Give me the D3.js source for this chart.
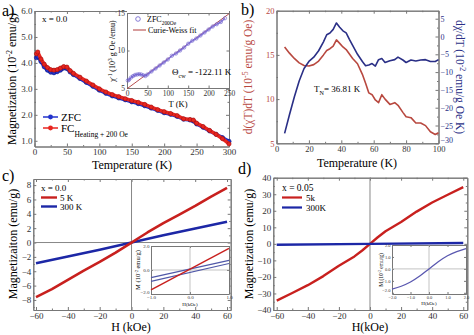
<!DOCTYPE html>
<html>
<head>
<meta charset="utf-8">
<script src="https://cdn.jsdelivr.net/npm/d3@7"></script>
<style>
body { margin: 0; background: #fff; }
</style>
</head>
<body>
<script>
// ---- panel a: M(T), ZFC and FC
const tempA = [3, 5, 10, 15, 20, 25, 30, 35, 40, 45, 50, 55, 60, 70, 80, 90, 100, 110, 120, 130, 140, 150, 160, 170, 180, 190, 200, 210, 220, 230, 240, 245, 250, 260, 270, 280, 290, 300];
const mZFC = [4.2, 4.25, 4.05, 3.85, 3.72, 3.64, 3.62, 3.66, 3.72, 3.8, 3.78, 3.65, 3.55, 3.4, 3.25, 3.1, 2.95, 2.83, 2.73, 2.65, 2.58, 2.5, 2.43, 2.35, 2.26, 2.17, 2.08, 2.02, 1.94, 1.83, 1.8, 1.76, 1.65, 1.52, 1.38, 1.25, 1.12, 0.98];
const mFC = [4.35, 4.42, 4.15, 3.95, 3.82, 3.74, 3.72, 3.74, 3.8, 3.86, 3.84, 3.7, 3.6, 3.45, 3.3, 3.15, 3.0, 2.88, 2.78, 2.7, 2.62, 2.55, 2.48, 2.4, 2.3, 2.2, 2.12, 2.05, 1.97, 1.85, 1.82, 1.8, 1.68, 1.55, 1.4, 1.25, 1.08, 0.88];
// inset a: inverse susceptibility + Curie-Weiss fit
const tempInv = [2, 5, 10, 15, 20, 25, 30, 35, 40, 45, 50, 60, 70, 80, 90, 100, 110, 120, 130, 140, 150, 160, 170, 180, 190, 200, 210, 220, 230, 240];
const chiInv = [6.0, 6.1, 6.4, 6.6, 6.75, 6.8, 6.85, 6.8, 6.7, 6.6, 6.8, 7.2, 7.6, 8.0, 8.4, 8.8, 9.3, 9.6, 10.0, 10.4, 10.9, 11.3, 11.6, 12.0, 12.4, 12.8, 13.2, 13.5, 13.8, 14.3];
const fitT = [0, 250];
const fitChi = [4.9, 14.9];

// ---- panel b: derivatives
const tempB = [5, 8, 11, 14, 17, 20, 23, 26, 29, 31, 33, 35, 37, 39, 41, 43, 45, 47, 50, 53, 55, 57, 59, 61, 63, 65, 67, 70, 73, 75, 78, 80, 83, 86, 89, 92, 95, 98, 100];
const dChiT = [15.9, 15.2, 14.6, 14.1, 13.8, 13.75, 13.9, 14.3, 15.0, 15.5, 15.7, 16.0, 16.7, 16.3, 15.9, 15.6, 15.1, 14.6, 14.0, 12.8, 11.8, 10.7, 10.5, 9.9, 9.6, 10.5, 10.0, 9.4, 9.6, 9.3, 8.5, 8.0, 7.9, 7.3, 7.3, 7.0, 6.3, 6.0, 6.2];
const dChi = [-27.2, -22.0, -17.0, -12.5, -9.0, -7.0, -5.8, -4.0, -1.5, 0.5, 1.0, 2.0, 3.8, 2.6, 1.6, 1.0, -0.8, -2.5, -5.0, -7.0, -8.2, -8.0, -7.6, -8.3, -6.5, -6.2, -7.3, -6.8, -6.5, -5.8, -6.6, -7.3, -6.6, -6.9, -6.6, -6.5, -7.0, -7.0, -6.5];

// ---- panel c: M(H), x = 0.0
const fieldC = [-60, -50, -40, -30, -20, -10, -5, 0, 5, 10, 20, 30, 40, 50, 60];
const mC5K = [-7.6, -6.5, -5.2, -3.9, -2.7, -1.4, -0.7, 0, 0.7, 1.4, 2.7, 3.9, 5.1, 6.4, 7.6];
const fieldC300 = [-60, -40, -20, 0, 20, 40, 60];
const mC300K = [-2.9, -1.95, -1.0, 0, 1.0, 1.95, 2.9];
const insetCH = [-1, 1];
const insetC5K = [-1.65, 1.8];
const insetCUp = [-0.63, 0.8];
const insetCLow = [-0.95, 0.54];

// ---- panel d: M(H), x = 0.05
const fieldD = [-60, -50, -40, -30, -20, -10, -5, 0, 5, 10, 20, 30, 40, 50, 60];
const mD5K = [-34.3, -29.7, -25, -19.5, -13.2, -7.6, -4.0, 0, 4.0, 7.6, 13.2, 19.5, 25, 29.7, 34.3];
const fieldD300 = [-60, 0, 60];
const mD300K = [-0.5, 0, 0.5];
const insetDH = [-2, -1.5, -1, -0.5, 0, 0.5, 1, 1.5, 2];
const insetDM = [-1.7, -1.45, -1.1, -0.6, 0, 0.6, 1.1, 1.45, 1.7];

const svg = d3.select("body").append("svg")
    .attr("width", 474)
    .attr("height", 335)
    .attr("font-family", "'Liberation Serif', 'DejaVu Serif', serif")
    .style("display", "block");

const AX = "#777";

// text with sub / superscripts: parts = [[text, "sup"|"sub"|null], ...]
function rich(sel, parts, size) {
    parts.forEach(([t, k]) => {
        const ts = sel.append("tspan").text(t);
        if (k) ts.attr("font-size", size * 0.68).attr("baseline-shift", k === "sup" ? "super" : "sub");
    });
    return sel;
}

function styleAxis(s, fs, color) {
    s.attr("font-family", null).attr("font-size", null);
    s.select(".domain").attr("stroke", AX);
    s.selectAll(".tick line").attr("stroke", AX);
    s.selectAll("text").attr("font-size", fs).attr("fill", color || "#333");
}

// box with inward ticks on all four sides, labels on left and bottom
function axes(x, y, o) {
    const [x0, x1] = x.range();
    const [y0, y1] = y.range();
    const fs = o.fs || 9;
    const tk = o.tk || 3;
    const g = svg.append("g");
    // minor ticks first
    if (o.xm) {
        g.append("g").attr("transform", `translate(0,${y0})`)
            .call(d3.axisBottom(x).tickValues(o.xm).tickFormat("").tickSizeInner(-tk / 2).tickSizeOuter(0)).call(styleAxis, fs);
        g.append("g").attr("transform", `translate(0,${y1})`)
            .call(d3.axisTop(x).tickValues(o.xm).tickFormat("").tickSizeInner(-tk / 2).tickSizeOuter(0)).call(styleAxis, fs);
    }
    if (o.ym) {
        g.append("g").attr("transform", `translate(${x0},0)`)
            .call(d3.axisLeft(y).tickValues(o.ym).tickFormat("").tickSizeInner(-tk / 2).tickSizeOuter(0)).call(styleAxis, fs);
        if (!o.noRight) g.append("g").attr("transform", `translate(${x1},0)`)
            .call(d3.axisRight(y).tickValues(o.ym).tickFormat("").tickSizeInner(-tk / 2).tickSizeOuter(0)).call(styleAxis, fs);
    }
    g.append("g").attr("transform", `translate(0,${y0})`)
        .call(d3.axisBottom(x).tickValues(o.xt).tickSizeInner(-tk).tickSizeOuter(0).tickPadding(o.pad || 3))
        .call(styleAxis, fs);
    g.append("g").attr("transform", `translate(0,${y1})`)
        .call(d3.axisTop(x).tickValues(o.xt).tickFormat("").tickSizeInner(-tk).tickSizeOuter(0))
        .call(styleAxis, fs);
    const left = g.append("g").attr("transform", `translate(${x0},0)`)
        .call(d3.axisLeft(y).tickValues(o.yt).tickSizeInner(-tk).tickSizeOuter(0).tickPadding(o.pad || 2))
        .call(styleAxis, fs, o.ycol);
    // lift the lowest y label a little so it clears the corner
    if (o.liftLow) left.selectAll(".tick text").filter(d => d === o.yt[0]).attr("y", -o.liftLow);
    if (!o.noRight) {
        g.append("g").attr("transform", `translate(${x1},0)`)
            .call(d3.axisRight(y).tickValues(o.yt).tickFormat("").tickSizeInner(-tk).tickSizeOuter(0))
            .call(styleAxis, fs);
    }
    return g;
}

function panelLabel(t, px, py) {
    svg.append("text").attr("x", px).attr("y", py).attr("font-size", 16).text(t);
}

function series(x, y, xs, ys, color, width) {
    return svg.append("path")
        .datum(xs.map((v, i) => [v, ys[i]]))
        .attr("fill", "none")
        .attr("stroke", color)
        .attr("stroke-width", width)
        .attr("stroke-linejoin", "round")
        .attr("d", d3.line().x(d => x(d[0])).y(d => y(d[1])));
}

// ================= panel a =================
const xA = d3.scaleLinear().domain([0, 300]).range([34.5, 229]);
const yA = d3.scaleLinear().domain([0.78, 6]).range([146.5, 11]);
axes(xA, yA, {xt: d3.range(0, 301, 50), yt: [1, 2, 3, 4, 5, 6], xm: d3.range(25, 300, 50), ym: d3.range(1.5, 6, 1), pad: 2});
panelLabel("a)", 2, 16);

const BLUE_A = "#2233cc", RED_A = "#e8251f";
series(xA, yA, tempA, mZFC, BLUE_A, 3.5);
svg.append("g").selectAll("circle").data(tempA).join("circle")
    .attr("cx", d => xA(d)).attr("cy", (d, i) => yA(mZFC[i])).attr("r", 2.1)
    .attr("fill", BLUE_A).attr("stroke", "#101a80").attr("stroke-width", 0.6);
series(xA, yA, tempA, mFC, RED_A, 3.5);
svg.append("g").selectAll("circle").data(tempA).join("circle")
    .attr("cx", d => xA(d)).attr("cy", (d, i) => yA(mFC[i])).attr("r", 2.1)
    .attr("fill", RED_A).attr("stroke", "#a01010").attr("stroke-width", 0.6);

svg.append("text").attr("x", 42).attr("y", 22).attr("font-size", 9).text("x = 0.0");

// legend a
[[BLUE_A, 117, [["ZFC", null]]], [RED_A, 128, [["FC", null], ["Heating + 200 Oe", "sub"]]]].forEach(([c, ly, parts]) => {
    svg.append("line").attr("x1", 43).attr("x2", 58).attr("y1", ly).attr("y2", ly).attr("stroke", c).attr("stroke-width", 1.5);
    svg.append("circle").attr("cx", 50.5).attr("cy", ly).attr("r", 2.4).attr("fill", c);
    rich(svg.append("text").attr("x", 61).attr("y", ly + 4).attr("font-size", 11), parts, 11);
});

rich(svg.append("text").attr("transform", "translate(16,79) rotate(-90)").attr("text-anchor", "middle").attr("font-size", 12),
    [["Magnetization (10", null], ["-2", "sup"], [" emu/g)", null]], 12);
svg.append("text").attr("x", 132).attr("y", 168.5).attr("text-anchor", "middle").attr("font-size", 12).text("Temperature (K)");

// inset a
const xIA = d3.scaleLinear().domain([0, 250]).range([127, 229]);
const yIA = d3.scaleLinear().domain([5, 15]).range([88, 13]);
svg.append("rect").attr("x", 127).attr("y", 11).attr("width", 102).attr("height", 77).attr("fill", "#fff");
axes(xIA, yIA, {xt: d3.range(0, 251, 50), yt: [5, 10, 15], fs: 7.5, tk: 2.5});
series(xIA, yIA, fitT, fitChi, "#b03a3a", 0.9);
series(xIA, yIA, tempInv, chiInv, "#8878d8", 1.6);
svg.append("g").selectAll("circle").data(tempInv).join("circle")
    .attr("cx", d => xIA(d)).attr("cy", (d, i) => yIA(chiInv[i])).attr("r", 1.7)
    .attr("fill", "none").attr("stroke", "#6a5ccc").attr("stroke-width", 0.6);
svg.append("circle").attr("cx", 138).attr("cy", 19).attr("r", 2.3).attr("fill", "none").attr("stroke", "#6a5ccc").attr("stroke-width", 0.8);
rich(svg.append("text").attr("x", 147).attr("y", 22).attr("font-size", 8), [["ZFC", null], ["200Oe", "sub"]], 8);
svg.append("line").attr("x1", 133).attr("x2", 146).attr("y1", 30).attr("y2", 30).attr("stroke", "#b03a3a").attr("stroke-width", 1);
svg.append("text").attr("x", 148).attr("y", 33).attr("font-size", 8).text("Curie-Weiss fit");
rich(svg.append("text").attr("x", 172).attr("y", 75).attr("font-size", 9), [["Θ", null], ["cw", "sub"], [" = -122.11 K", null]], 9);
rich(svg.append("text").attr("transform", "translate(115,51) rotate(-90)").attr("text-anchor", "middle").attr("font-size", 8),
    [["χ", null], ["-1", "sup"], [" (10", null], ["3", "sup"], [" g Oe /emu)", null]], 8);
svg.append("text").attr("x", 178).attr("y", 107).attr("text-anchor", "middle").attr("font-size", 8.5).text("T (K)");

// ================= panel b =================
const xB = d3.scaleLinear().domain([0, 100]).range([276.5, 438.5]);
const yBL = d3.scaleLinear().domain([5, 20]).range([143.3, 10.7]);
const yBR = d3.scaleLinear().domain([-30, 7.25]).range([143.3, 10.7]);
const RED_B = "#b8483f", BLUE_B = "#2a2f86";
axes(xB, yBL, {xt: d3.range(0, 101, 20), yt: [5, 10, 15, 20], noRight: true, ycol: RED_B, fs: 8.5,
    xm: d3.range(10, 100, 20), ym: [7.5, 12.5, 17.5]});
svg.append("g").attr("transform", "translate(438.5,0)")
    .call(d3.axisRight(yBR).tickValues(d3.range(-27.5, 6, 5)).tickFormat("").tickSizeInner(-1.5).tickSizeOuter(0))
    .call(styleAxis, 8);
svg.append("g").attr("transform", "translate(438.5,0)")
    .call(d3.axisRight(yBR).tickValues(d3.range(-30, 6, 5)).tickSizeInner(-3).tickSizeOuter(0).tickPadding(2))
    .call(styleAxis, 8, BLUE_B)
    .call(s => s.selectAll(".tick text").filter(d => d === -30).attr("y", -3));
panelLabel("b)", 241, 15);
series(xB, yBL, tempB, dChiT, RED_B, 1.6);
series(xB, yBR, tempB, dChi, BLUE_B, 1.6);
rich(svg.append("text").attr("x", 314).attr("y", 92).attr("font-size", 9), [["T", null], ["N", "sub"], ["= 36.81 K", null]], 9);
rich(svg.append("text").attr("transform", "translate(252,77) rotate(-90)").attr("text-anchor", "middle").attr("font-size", 11.5).attr("fill", RED_B),
    [["d(χT)dT (10", null], ["-5", "sup"], [" emu/g Oe)", null]], 11.5);
rich(svg.append("text").attr("transform", "translate(456,77) rotate(90)").attr("text-anchor", "middle").attr("font-size", 11.5).attr("fill", BLUE_B),
    [["dχ/dT (10", null], ["-2", "sup"], [" emu/g Oe K)", null]], 11.5);
svg.append("text").attr("x", 357).attr("y", 167).attr("text-anchor", "middle").attr("font-size", 12).text("Temperature (K)");

// ================= panel c =================
const xC = d3.scaleLinear().domain([-61.7, 62.3]).range([33.3, 230.7]);
const yC = d3.scaleLinear().domain([-9.4, 8.85]).range([310, 179]);
const RED_C = "#c8201e", BLUE_C = "#1c27a6";
axes(xC, yC, {xt: d3.range(-60, 61, 20), yt: d3.range(-8, 9, 2), xm: d3.range(-50, 60, 20), ym: d3.range(-9, 9, 2)});
panelLabel("c)", 2, 181);
svg.append("line").attr("x1", xC(0)).attr("x2", xC(0)).attr("y1", 179).attr("y2", 310).attr("stroke", "#888");
svg.append("line").attr("x1", 33.3).attr("x2", 230.7).attr("y1", yC(0)).attr("y2", yC(0)).attr("stroke", "#888");
series(xC, yC, fieldC300, mC300K, BLUE_C, 2.6);
series(xC, yC, fieldC, mC5K, RED_C, 2.6);
svg.append("text").attr("x", 41).attr("y", 191).attr("font-size", 9).text("x = 0.0");
[[RED_C, 197.5, "5 K"], [BLUE_C, 206.5, "300 K"]].forEach(([c, ly, t]) => {
    svg.append("line").attr("x1", 41).attr("x2", 57).attr("y1", ly).attr("y2", ly).attr("stroke", c).attr("stroke-width", 2.4);
    svg.append("text").attr("x", 60).attr("y", ly + 3).attr("font-size", 9).text(t);
});
svg.append("text").attr("transform", "translate(17,244) rotate(-90)").attr("text-anchor", "middle").attr("font-size", 12).text("Magnetizaiton (emu/g)");
svg.append("text").attr("x", 131).attr("y", 331).attr("text-anchor", "middle").attr("font-size", 12).text("H (kOe)");

// inset c
const xCI = d3.scaleLinear().domain([-1, 1]).range([151, 229]);
const yCI = d3.scaleLinear().domain([-2, 2]).range([294, 246]);
svg.append("rect").attr("x", 151).attr("y", 246).attr("width", 78).attr("height", 48).attr("fill", "#fff");
axes(xCI, yCI, {xt: [-1, 0, 1], yt: [-2, 0, 2], fs: 5, tk: 2, pad: 1.5, liftLow: 2.5});
svg.append("line").attr("x1", xCI(0)).attr("x2", xCI(0)).attr("y1", 246).attr("y2", 294).attr("stroke", "#aaa").attr("stroke-width", 0.7);
svg.append("line").attr("x1", 151).attr("x2", 229).attr("y1", yCI(0)).attr("y2", yCI(0)).attr("stroke", "#aaa").attr("stroke-width", 0.7);
series(xCI, yCI, insetCH, insetCUp, "#5058a8", 1.2);
series(xCI, yCI, insetCH, insetCLow, "#5058a8", 1.2);
series(xCI, yCI, insetCH, insetC5K, "#c8201e", 1.4);
rich(svg.append("text").attr("transform", "translate(140,270) rotate(-90)").attr("text-anchor", "middle").attr("font-size", 6.5),
    [["M (10", null], ["-2", "sup"], [" emu/g)", null]], 6.5);
svg.append("text").attr("x", 190).attr("y", 306).attr("text-anchor", "middle").attr("font-size", 5).text("H(kOe)");

// ================= panel d =================
const xD = d3.scaleLinear().domain([-62.2, 62.6]).range([273.3, 467.3]);
const yD = d3.scaleLinear().domain([-40, 40]).range([310, 177.7]);
const RED_D = "#c8201e", BLUE_D = "#1c27a6";
axes(xD, yD, {xt: d3.range(-60, 61, 20), yt: d3.range(-40, 41, 10), xm: d3.range(-50, 60, 20), ym: d3.range(-35, 40, 10)});
panelLabel("d)", 238, 174);
svg.append("line").attr("x1", xD(0)).attr("x2", xD(0)).attr("y1", 177.7).attr("y2", 310).attr("stroke", "#888");
series(xD, yD, fieldD, mD5K, RED_D, 2.4);
series(xD, yD, fieldD300, mD300K, BLUE_D, 2.4);
svg.append("text").attr("x", 282).attr("y", 191).attr("font-size", 9.5).text("x = 0.05");
[[RED_D, 197.5, "5k"], [BLUE_D, 207.5, "300K"]].forEach(([c, ly, t]) => {
    svg.append("line").attr("x1", 282).attr("x2", 302).attr("y1", ly).attr("y2", ly).attr("stroke", c).attr("stroke-width", 2.2);
    svg.append("text").attr("x", 306).attr("y", ly + 3).attr("font-size", 9).text(t);
});
svg.append("text").attr("transform", "translate(253,244) rotate(-90)").attr("text-anchor", "middle").attr("font-size", 12).text("Magnetization (emu/g)");
svg.append("text").attr("x", 370).attr("y", 331).attr("text-anchor", "middle").attr("font-size", 12).text("H(kOe)");

// inset d
const xDI = d3.scaleLinear().domain([-2, 2]).range([392, 466]);
const yDI = d3.scaleLinear().domain([-2.1, 2]).range([294, 245]);
svg.append("rect").attr("x", 392).attr("y", 245).attr("width", 74).attr("height", 49).attr("fill", "#fff");
axes(xDI, yDI, {xt: [-2, -1, 0, 1, 2], yt: [-2, -1, 0, 1, 2], fs: 4.5, tk: 2, pad: 1.5, liftLow: 2.5});
svg.append("line").attr("x1", xDI(0)).attr("x2", xDI(0)).attr("y1", 245).attr("y2", 294).attr("stroke", "#aaa").attr("stroke-width", 0.7);
svg.append("line").attr("x1", 392).attr("x2", 466).attr("y1", yDI(0)).attr("y2", yDI(0)).attr("stroke", "#aaa").attr("stroke-width", 0.7);
svg.append("path")
    .datum(insetDH.map((v, i) => [v, insetDM[i]]))
    .attr("fill", "none").attr("stroke", "#5a58b0").attr("stroke-width", 1.3)
    .attr("d", d3.line().curve(d3.curveMonotoneX).x(d => xDI(d[0])).y(d => yDI(d[1])));
rich(svg.append("text").attr("transform", "translate(383,270) rotate(-90)").attr("text-anchor", "middle").attr("font-size", 5.5),
    [["M (10", null], ["-2", "sup"], [" emu/g)", null]], 5.5);
svg.append("text").attr("x", 429).attr("y", 305).attr("text-anchor", "middle").attr("font-size", 5).text("H(kOe)");
</script>
</body>
</html>
